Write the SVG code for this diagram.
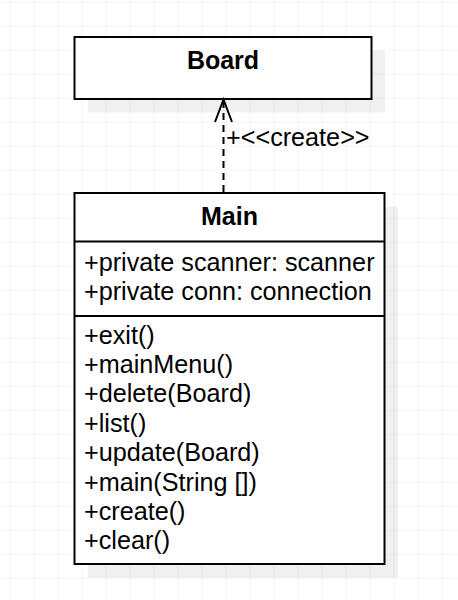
<svg xmlns="http://www.w3.org/2000/svg" width="458" height="600" viewBox="0 0 458 600">
  <defs>
    <pattern id="grid" x="9.5" y="1.5" width="24" height="24" patternUnits="userSpaceOnUse">
      <path d="M0 0H24M0 0V24" fill="none" stroke="#ebebeb" stroke-width="1.2"/>
    </pattern>
  </defs>
  <style>
    .box { fill: #fff; stroke: #000; stroke-width: 2; }
    .shadow { fill: #000; fill-opacity: 0.06; }
    .sep { stroke: #000; stroke-width: 2; }
    .t { font-family: "Liberation Sans", Arial, sans-serif; font-size: 25.2px; fill: #000; }
    .b { font-weight: bold; font-size: 25px; text-anchor: middle; }
    .edge { fill: none; stroke: #000; stroke-width: 2; stroke-dasharray: 7 5; }
  </style>
  <rect width="458" height="600" fill="#fff"/>
  <rect width="458" height="600" fill="url(#grid)"/>

  <g id="board">
    <rect class="shadow" x="88" y="50.5" width="297" height="62"/>
    <rect class="box" x="74.5" y="37" width="297" height="62"/>
    <text class="t b" x="223" y="69">Board</text>
  </g>

  <g id="main">
    <rect class="shadow" x="88" y="207" width="310" height="371"/>
    <rect class="box" x="74.5" y="193" width="310" height="371"/>
    <line class="sep" x1="74.5" y1="241.5" x2="384.5" y2="241.5"/>
    <line class="sep" x1="74.5" y1="316" x2="384.5" y2="316"/>
    <text class="t b" x="229.5" y="225">Main</text>
    <text class="t" x="84" y="270.5">+private scanner: scanner</text>
    <text class="t" x="84" y="299.5">+private conn: connection</text>
    <text class="t" x="84" y="343.5">+exit()</text>
    <text class="t" x="84" y="372.9">+mainMenu()</text>
    <text class="t" x="84" y="402.3">+delete(Board)</text>
    <text class="t" x="84" y="431.7">+list()</text>
    <text class="t" x="84" y="461.1">+update(Board)</text>
    <text class="t" x="84" y="490.5">+main(String [])</text>
    <text class="t" x="84" y="519.9">+create()</text>
    <text class="t" x="84" y="549.3">+clear()</text>
  </g>

  <g id="connectors">
    <line class="edge" x1="223.5" y1="192" x2="223.5" y2="101"/>
    <path d="M215 122 L223.5 99.5 L232 122" fill="none" stroke="#000" stroke-width="2"/>
    <text class="t" x="226" y="146">+&lt;&lt;create&gt;&gt;</text>
  </g>
</svg>
